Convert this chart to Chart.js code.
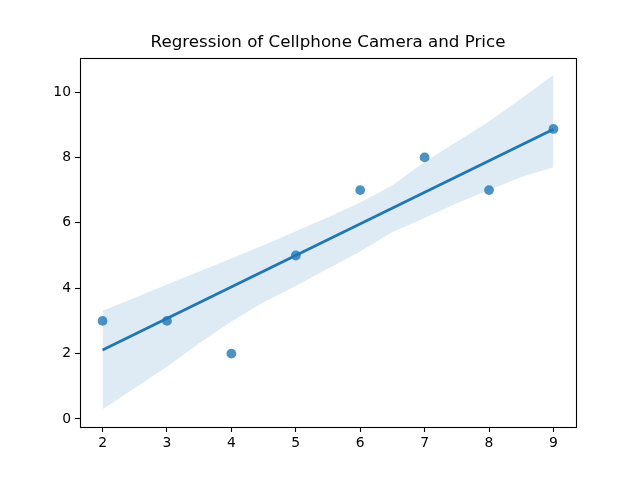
<!DOCTYPE html>
<html>
<head>
<meta charset="utf-8">
<script src="https://cdn.jsdelivr.net/npm/chart.js@4/dist/chart.umd.min.js"></script>
<style>
html,body{margin:0;padding:0;background:#fff;}
canvas{display:block;}
</style>
</head>
<body>
<canvas id="c" width="640" height="480"></canvas>
<script>
// Data
const titleText = "Regression of Cellphone Camera and Price";
const cameraX = [2, 3, 4, 5, 6, 7, 8, 9];
const priceY = [3, 3, 2, 5, 7, 8, 7, 8.87];
const fitX = [2, 9];
const fitY = [2.11, 8.86];
const bandX = [2, 2.5, 3, 3.5, 4, 4.5, 5, 5.5, 6, 6.5, 7, 7.5, 8, 8.5, 9];
const bandUpper = [3.31, 3.71, 4.11, 4.51, 4.91, 5.31, 5.74, 6.17, 6.62, 7.15, 7.87, 8.48, 9.1, 9.8, 10.52];
const bandLower = [0.30, 0.95, 1.60, 2.32, 2.98, 3.57, 4.07, 4.6, 5.12, 5.72, 6.15, 6.6, 7.0, 7.4, 7.70];
const xTicks = [2, 3, 4, 5, 6, 7, 8, 9];
const yTicks = [0, 2, 4, 6, 8, 10];
const xRange = [1.65, 9.35];
const yRange = [-0.245, 11.04];

const pts = (xs, ys) => xs.map((x, i) => ({x: x, y: ys[i]}));
const blue = '#1f77b4';
const font = {family: 'DejaVu Sans', size: 13.9};

const frame = {
  id: 'frame',
  afterDatasetsDraw(chart) {
    const a = chart.chartArea, ctx = chart.ctx;
    ctx.save();
    ctx.strokeStyle = '#000';
    ctx.lineWidth = 1.1;
    ctx.strokeRect(Math.round(a.left) + 0.5, Math.round(a.top) + 0.5,
      Math.round(a.right - a.left), Math.round(a.bottom - a.top));
    ctx.restore();
  }
};

const axesTitle = {
  id: 'axesTitle',
  afterDraw(chart) {
    const a = chart.chartArea, ctx = chart.ctx;
    ctx.save();
    ctx.fillStyle = '#000';
    ctx.font = '16.7px "DejaVu Sans"';
    ctx.textAlign = 'center';
    ctx.textBaseline = 'middle';
    ctx.fillText(titleText, (a.left + a.right) / 2, 43);
    ctx.restore();
  }
};

new Chart(document.getElementById('c'), {
  type: 'scatter',
  data: {
    datasets: [
      {
        label: 'points',
        data: pts(cameraX, priceY),
        backgroundColor: 'rgba(31,119,180,0.8)',
        borderWidth: 0,
        pointRadius: 4.9,
        order: 4
      },
      {
        label: 'lower',
        type: 'line',
        data: pts(bandX, bandLower),
        borderWidth: 0,
        borderColor: 'rgba(0,0,0,0)',
        pointRadius: 0,
        fill: false,
        tension: 0,
        order: 3
      },
      {
        label: 'upper',
        type: 'line',
        data: pts(bandX, bandUpper),
        borderWidth: 0,
        borderColor: 'rgba(0,0,0,0)',
        backgroundColor: 'rgba(31,119,180,0.15)',
        pointRadius: 0,
        fill: '-1',
        tension: 0,
        order: 2
      },
      {
        label: 'fit',
        type: 'line',
        data: pts(fitX, fitY),
        borderColor: blue,
        borderWidth: 2.8,
        pointRadius: 0,
        fill: false,
        tension: 0,
        order: 1
      }
    ]
  },
  options: {
    responsive: false,
    animation: false,
    devicePixelRatio: 1,
    layout: {padding: {left: 0, right: 64, top: 58, bottom: 0}},
    plugins: {
      legend: {display: false},
      tooltip: {enabled: false},
      title: {display: false}
    },
    scales: {
      x: {
        type: 'linear',
        min: xRange[0],
        max: xRange[1],
        afterBuildTicks(s) { s.ticks = xTicks.map(v => ({value: v})); },
        afterFit(s) { s.height = 53; },
        grid: {drawOnChartArea: false, drawTicks: true, tickLength: 5, color: '#000', tickWidth: 1.1},
        border: {display: false},
        ticks: {color: '#000', font: font, padding: 3, maxRotation: 0, callback: v => String(v)}
      },
      y: {
        type: 'linear',
        min: yRange[0],
        max: yRange[1],
        afterBuildTicks(s) { s.ticks = yTicks.map(v => ({value: v})); },
        afterFit(s) { s.width = 80; },
        grid: {drawOnChartArea: false, drawTicks: true, tickLength: 5, color: '#000', tickWidth: 1.1},
        border: {display: false},
        ticks: {color: '#000', font: font, padding: 4, callback: v => String(v)}
      }
    }
  },
  plugins: [frame, axesTitle]
});
</script>
</body>
</html>
